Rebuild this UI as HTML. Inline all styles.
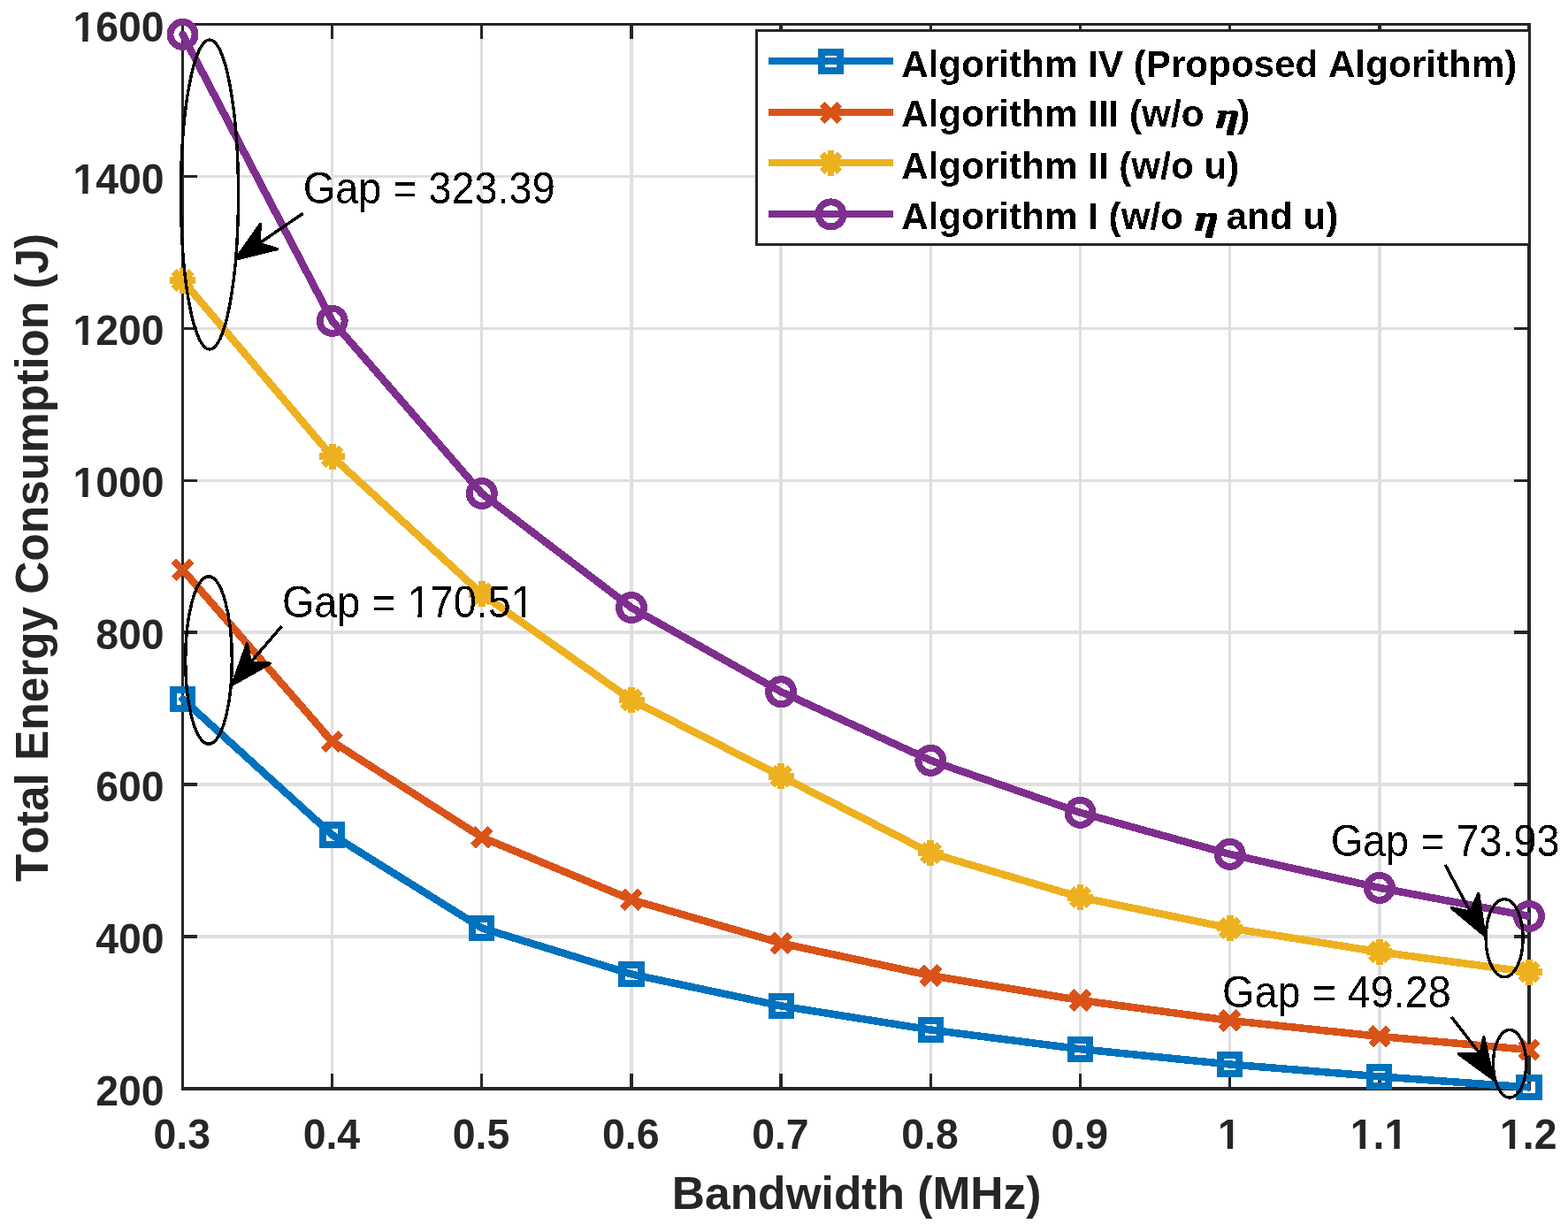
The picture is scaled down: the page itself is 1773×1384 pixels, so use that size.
<!DOCTYPE html>
<html lang="en"><head><meta charset="utf-8"><title>Total Energy Consumption vs Bandwidth</title>
<style>html,body{margin:0;padding:0;background:#fff}body{width:1773px;height:1384px;overflow:hidden}svg{display:block;shape-rendering:crispEdges}text{font-family:"Liberation Sans",Arial,Helvetica,sans-serif;white-space:pre;font-kerning:none;font-variant-ligatures:none}.eta{font-family:"Liberation Serif","DejaVu Serif",serif;font-weight:bold}</style>
</head><body>
<svg width="1773" height="1384" viewBox="0 0 1773 1384" role="img" aria-label="Total energy consumption versus bandwidth for four algorithms">
<rect width="1773" height="1384" fill="#fff"/>
<defs><clipPath id="c1"><path clip-rule="evenodd" d="M-900-400H900V400H-900ZM141.79 -4.1H153.56V3H141.79ZM157.7 -4.1H167.82V3H157.7ZM258.92 -4.1H270.69V3H258.92ZM274.82 -4.1H284.94V3H274.82Z"/></clipPath><clipPath id="c2"><path clip-rule="evenodd" d="M-900-400H900V400H-900ZM-12.9 -5.33H-2.07V3H-12.9ZM4.29 -5.33H12.89V3H4.29Z"/></clipPath><clipPath id="c3"><path clip-rule="evenodd" d="M-900-400H900V400H-900ZM-32.25 -5.33H-21.42V3H-32.25ZM-15.06 -5.33H-6.45V3H-15.06ZM6.44 -5.33H17.27V3H6.44ZM23.64 -5.33H32.24V3H23.64Z"/></clipPath><clipPath id="c4"><path clip-rule="evenodd" d="M-900-400H900V400H-900ZM-32.25 -5.33H-21.42V3H-32.25ZM-15.06 -5.33H-6.45V3H-15.06Z"/></clipPath><clipPath id="c5"><path clip-rule="evenodd" d="M-900-400H900V400H-900ZM-103.23 -5.33H-92.4V3H-103.23ZM-86.03 -5.33H-77.43V3H-86.03Z"/></clipPath><clipPath id="c6"><path clip-rule="evenodd" d="M-900-400H900V400H-900ZM-103.23 -5.33H-92.4V3H-103.23ZM-86.03 -5.33H-77.43V3H-86.03Z"/></clipPath><clipPath id="c7"><path clip-rule="evenodd" d="M-900-400H900V400H-900ZM-103.23 -5.33H-92.4V3H-103.23ZM-86.03 -5.33H-77.43V3H-86.03Z"/></clipPath><clipPath id="c8"><path clip-rule="evenodd" d="M-900-400H900V400H-900ZM-103.23 -5.33H-92.4V3H-103.23ZM-86.03 -5.33H-77.43V3H-86.03Z"/></clipPath></defs>
<path id="grid" d="M374 29H377V1229H374ZM543 29H546V1229H543ZM712 29H716V1229H712ZM881 29H885V1229H881ZM1051 29H1054V1229H1051ZM1220 29H1223V1229H1220ZM1389 29H1392V1229H1389ZM1558 29H1562V1229H1558ZM208 198H1727V201H208ZM208 370H1727V373H208ZM208 542H1727V545H208ZM208 713H1727V717H208ZM208 885H1727V889H208ZM208 1057H1727V1061H208Z" fill="#dfdfdf"/>
<path id="axes" d="M374 1214H377V1229H374ZM374 29H377V44H374ZM543 1214H546V1229H543ZM543 29H546V44H543ZM712 1214H716V1229H712ZM712 29H716V44H712ZM881 1214H885V1229H881ZM881 29H885V44H881ZM1051 1214H1054V1229H1051ZM1051 29H1054V44H1051ZM1220 1214H1223V1229H1220ZM1220 29H1223V44H1220ZM1389 1214H1392V1229H1389ZM1389 29H1392V44H1389ZM1558 1214H1562V1229H1558ZM1558 29H1562V44H1558ZM208 198H223V201H208ZM1712 198H1727V201H1712ZM208 370H223V373H208ZM1712 370H1727V373H1712ZM208 542H223V545H208ZM1712 542H1727V545H1712ZM208 713H223V717H208ZM1712 713H1727V717H1712ZM208 885H223V889H208ZM1712 885H1727V889H1712ZM208 1057H223V1061H208ZM1712 1057H1727V1061H1712ZM205 26H1731V29H205ZM205 1229H1731V1233H205ZM205 26H208V1233H205ZM1727 26H1731V1233H1727Z" fill="#262626"/>
<defs><clipPath id="axclip"><rect x="200" y="20" width="1530" height="1214"/></clipPath></defs>
<g id="lines" fill="none" stroke-linejoin="round" stroke-linecap="round" clip-path="url(#axclip)">
<polyline points="206.5,790.5 375.67,944 544.83,1049.4 714,1101.5 883.17,1137.4 1052.33,1164.5 1221.5,1186.2 1390.67,1203.5 1559.83,1217.3 1729,1229.4" stroke="#0072BD" stroke-width="8.5"/>
<polyline points="206.5,644.1 375.67,838.5 544.83,946.7 714,1017.3 883.17,1066.5 1052.33,1103.1 1221.5,1131 1390.67,1153.9 1559.83,1171.9 1729,1187" stroke="#D95319" stroke-width="8.5"/>
<polyline points="206.5,317 375.67,516.4 544.83,671.6 714,791.5 883.17,877.7 1052.33,964.5 1221.5,1014.6 1390.67,1049.4 1559.83,1076.4 1729,1099.2" stroke="#EDB120" stroke-width="8.5"/>
<polyline points="206.5,38.95 375.67,362.85 544.83,558 714,687.1 883.17,782.2 1052.33,859.9 1221.5,918.8 1390.67,965.85 1559.83,1003.9 1729,1035.95" stroke="#7E2F8E" stroke-width="8.5"/>
</g>
<g id="markers-blue">
<rect x="195.93" y="779.92" width="21.15" height="21.15" fill="none" stroke="#0072BD" stroke-width="7.9"/>
<rect x="365.09" y="933.42" width="21.15" height="21.15" fill="none" stroke="#0072BD" stroke-width="7.9"/>
<rect x="534.26" y="1038.83" width="21.15" height="21.15" fill="none" stroke="#0072BD" stroke-width="7.9"/>
<rect x="703.42" y="1090.92" width="21.15" height="21.15" fill="none" stroke="#0072BD" stroke-width="7.9"/>
<rect x="872.59" y="1126.83" width="21.15" height="21.15" fill="none" stroke="#0072BD" stroke-width="7.9"/>
<rect x="1041.76" y="1153.92" width="21.15" height="21.15" fill="none" stroke="#0072BD" stroke-width="7.9"/>
<rect x="1210.92" y="1175.62" width="21.15" height="21.15" fill="none" stroke="#0072BD" stroke-width="7.9"/>
<rect x="1380.09" y="1192.92" width="21.15" height="21.15" fill="none" stroke="#0072BD" stroke-width="7.9"/>
<rect x="1549.26" y="1206.72" width="21.15" height="21.15" fill="none" stroke="#0072BD" stroke-width="7.9"/>
<rect x="1718.42" y="1218.83" width="21.15" height="21.15" fill="none" stroke="#0072BD" stroke-width="7.9"/>
</g>
<g id="markers-orange">
<path d="M196.6 634.2L216.4 654M196.6 654L216.4 634.2" fill="none" stroke="#D95319" stroke-width="7.9"/>
<path d="M365.77 828.6L385.57 848.4M365.77 848.4L385.57 828.6" fill="none" stroke="#D95319" stroke-width="7.9"/>
<path d="M534.93 936.8L554.73 956.6M534.93 956.6L554.73 936.8" fill="none" stroke="#D95319" stroke-width="7.9"/>
<path d="M704.1 1007.4L723.9 1027.2M704.1 1027.2L723.9 1007.4" fill="none" stroke="#D95319" stroke-width="7.9"/>
<path d="M873.27 1056.6L893.07 1076.4M873.27 1076.4L893.07 1056.6" fill="none" stroke="#D95319" stroke-width="7.9"/>
<path d="M1042.43 1093.2L1062.23 1113M1042.43 1113L1062.23 1093.2" fill="none" stroke="#D95319" stroke-width="7.9"/>
<path d="M1211.6 1121.1L1231.4 1140.9M1211.6 1140.9L1231.4 1121.1" fill="none" stroke="#D95319" stroke-width="7.9"/>
<path d="M1380.77 1144L1400.57 1163.8M1380.77 1163.8L1400.57 1144" fill="none" stroke="#D95319" stroke-width="7.9"/>
<path d="M1549.93 1162L1569.73 1181.8M1549.93 1181.8L1569.73 1162" fill="none" stroke="#D95319" stroke-width="7.9"/>
<path d="M1719.1 1177.1L1738.9 1196.9M1719.1 1196.9L1738.9 1177.1" fill="none" stroke="#D95319" stroke-width="7.9"/>
</g>
<g id="markers-yellow">
<path d="M196.6 307.1L216.4 326.9M196.6 326.9L216.4 307.1M192 317L221 317M206.5 302.5L206.5 331.5" fill="none" stroke="#EDB120" stroke-width="7.9"/>
<path d="M365.77 506.5L385.57 526.3M365.77 526.3L385.57 506.5M361.17 516.4L390.17 516.4M375.67 501.9L375.67 530.9" fill="none" stroke="#EDB120" stroke-width="7.9"/>
<path d="M534.93 661.7L554.73 681.5M534.93 681.5L554.73 661.7M530.33 671.6L559.33 671.6M544.83 657.1L544.83 686.1" fill="none" stroke="#EDB120" stroke-width="7.9"/>
<path d="M704.1 781.6L723.9 801.4M704.1 801.4L723.9 781.6M699.5 791.5L728.5 791.5M714 777L714 806" fill="none" stroke="#EDB120" stroke-width="7.9"/>
<path d="M873.27 867.8L893.07 887.6M873.27 887.6L893.07 867.8M868.67 877.7L897.67 877.7M883.17 863.2L883.17 892.2" fill="none" stroke="#EDB120" stroke-width="7.9"/>
<path d="M1042.43 954.6L1062.23 974.4M1042.43 974.4L1062.23 954.6M1037.83 964.5L1066.83 964.5M1052.33 950L1052.33 979" fill="none" stroke="#EDB120" stroke-width="7.9"/>
<path d="M1211.6 1004.7L1231.4 1024.5M1211.6 1024.5L1231.4 1004.7M1207 1014.6L1236 1014.6M1221.5 1000.1L1221.5 1029.1" fill="none" stroke="#EDB120" stroke-width="7.9"/>
<path d="M1380.77 1039.5L1400.57 1059.3M1380.77 1059.3L1400.57 1039.5M1376.17 1049.4L1405.17 1049.4M1390.67 1034.9L1390.67 1063.9" fill="none" stroke="#EDB120" stroke-width="7.9"/>
<path d="M1549.93 1066.5L1569.73 1086.3M1549.93 1086.3L1569.73 1066.5M1545.33 1076.4L1574.33 1076.4M1559.83 1061.9L1559.83 1090.9" fill="none" stroke="#EDB120" stroke-width="7.9"/>
<path d="M1719.1 1089.3L1738.9 1109.1M1719.1 1109.1L1738.9 1089.3M1714.5 1099.2L1743.5 1099.2M1729 1084.7L1729 1113.7" fill="none" stroke="#EDB120" stroke-width="7.9"/>
</g>
<g id="markers-purple">
<circle cx="206.5" cy="38.95" r="14.05" fill="none" stroke="#7E2F8E" stroke-width="7.9"/>
<circle cx="375.67" cy="362.85" r="14.05" fill="none" stroke="#7E2F8E" stroke-width="7.9"/>
<circle cx="544.83" cy="558" r="14.05" fill="none" stroke="#7E2F8E" stroke-width="7.9"/>
<circle cx="714" cy="687.1" r="14.05" fill="none" stroke="#7E2F8E" stroke-width="7.9"/>
<circle cx="883.17" cy="782.2" r="14.05" fill="none" stroke="#7E2F8E" stroke-width="7.9"/>
<circle cx="1052.33" cy="859.9" r="14.05" fill="none" stroke="#7E2F8E" stroke-width="7.9"/>
<circle cx="1221.5" cy="918.8" r="14.05" fill="none" stroke="#7E2F8E" stroke-width="7.9"/>
<circle cx="1390.67" cy="965.85" r="14.05" fill="none" stroke="#7E2F8E" stroke-width="7.9"/>
<circle cx="1559.83" cy="1003.9" r="14.05" fill="none" stroke="#7E2F8E" stroke-width="7.9"/>
<circle cx="1729" cy="1035.95" r="14.05" fill="none" stroke="#7E2F8E" stroke-width="7.9"/>
</g>
<defs><filter id="hard" x="-5%" y="-20%" width="110%" height="140%" color-interpolation-filters="sRGB"><feComponentTransfer><feFuncA type="discrete" tableValues="0 1"/></feComponentTransfer></filter><filter id="hard2" x="-5%" y="-20%" width="110%" height="140%" color-interpolation-filters="sRGB"><feComponentTransfer><feFuncA type="discrete" tableValues="0 1 1 1"/></feComponentTransfer></filter></defs>
<g id="gap-labels" filter="url(#hard)">
<text transform="translate(342.8 230.4) scale(1 1.07)" font-size="46.8" font-weight="normal" text-anchor="start" fill="#000">Gap = 323.39</text>
<text transform="translate(318.9 697.8) scale(1 1.07)" font-size="46.8" font-weight="normal" text-anchor="start" fill="#000" clip-path="url(#c1)">Gap = 170.51</text>
<text transform="translate(1504.7 967.6) scale(1 1.07)" font-size="46.8" font-weight="normal" text-anchor="start" fill="#000">Gap = 73.93</text>
<text transform="translate(1382 1139) scale(1 1.07)" font-size="46.8" font-weight="normal" text-anchor="start" fill="#000">Gap = 49.28</text>
</g>
<g id="legend">
<rect x="855.5" y="34.5" width="874" height="242" fill="#fff" stroke="#262626" stroke-width="3.1"/>
<line x1="869" y1="69.1" x2="1010" y2="69.1" stroke="#0072BD" stroke-width="7.9"/>
<rect x="928.92" y="58.92" width="21.15" height="21.15" fill="none" stroke="#0072BD" stroke-width="7.9"/>
<line x1="869" y1="127.05" x2="1010" y2="127.05" stroke="#D95319" stroke-width="7.9"/>
<path d="M929.6 117.55L949.4 137.35M929.6 137.35L949.4 117.55" fill="none" stroke="#D95319" stroke-width="7.9"/>
<line x1="869" y1="183.9" x2="1010" y2="183.9" stroke="#EDB120" stroke-width="7.9"/>
<path d="M929.6 174.4L949.4 194.2M929.6 194.2L949.4 174.4M925 184.3L954 184.3M939.5 169.8L939.5 198.8" fill="none" stroke="#EDB120" stroke-width="7.9"/>
<line x1="869" y1="242" x2="1010" y2="242" stroke="#7E2F8E" stroke-width="7.9"/>
<circle cx="939.5" cy="242.4" r="14.05" fill="none" stroke="#7E2F8E" stroke-width="7.9"/>
<g id="legend-text" filter="url(#hard)">
<text transform="translate(1019.2 86.8) scale(1 1.01)" font-size="42.2" font-weight="bold" text-anchor="start" fill="#000">Algorithm IV (Proposed Algorithm)</text>
<text transform="translate(1019.2 142.8) scale(1 1.01)" font-size="42.2" font-weight="bold" text-anchor="start" fill="#000">Algorithm III (w/o </text>
<text class="eta" transform="translate(1372.2 143.6) skewX(-15) scale(1.15 1)" font-size="40" fill="#000" stroke="#000" stroke-width="1.4">η</text>
<text transform="translate(1413 142.8) scale(1 1.01)" font-size="42.2" font-weight="bold" text-anchor="end" fill="#000">)</text>
<text transform="translate(1019.2 201.8) scale(1 1.01)" font-size="42.2" font-weight="bold" text-anchor="start" fill="#000">Algorithm II (w/o u)</text>
<text transform="translate(1019.2 258.8) scale(1 1.01)" font-size="42.2" font-weight="bold" text-anchor="start" fill="#000">Algorithm I (w/o </text>
<text class="eta" transform="translate(1348.4 259.6) skewX(-15) scale(1.15 1)" font-size="40" fill="#000" stroke="#000" stroke-width="1.4">η</text>
<text transform="translate(1513.2 258.8) scale(1 1.01)" font-size="42.2" font-weight="bold" text-anchor="end" fill="#000">and u)</text>
</g>
</g>
<g id="annotations" fill="none" stroke="#000" stroke-width="3.4">
<ellipse cx="237" cy="220" rx="32.5" ry="175"/>
<ellipse cx="236" cy="746.5" rx="26.3" ry="94.7"/>
<ellipse cx="1701.1" cy="1060.7" rx="21" ry="44.1"/>
<ellipse cx="1707.1" cy="1202.8" rx="18.6" ry="38.4"/>
</g>
<line x1="342.5" y1="241.4" x2="290.26" y2="277.18" stroke="#000" stroke-width="3.5"/><polygon points="266.41,293.14 294.34,253.59 292.74,275.49 313.36,281.54" fill="#000" stroke="#000" stroke-width="3.4" stroke-linejoin="round"/>
<line x1="318.7" y1="707.9" x2="281.29" y2="751.42" stroke="#000" stroke-width="3.5"/><polygon points="262.9,774 279.43,727.88 283.23,749.12 305.2,750.17" fill="#000" stroke="#000" stroke-width="3.4" stroke-linejoin="round"/>
<line x1="1634.2" y1="978" x2="1664" y2="1033.78" stroke="#000" stroke-width="3.5"/><polygon points="1678.67,1057.72 1671.75,1010.57 1662.54,1031.16 1641.67,1026.82" fill="#000" stroke="#000" stroke-width="3.4" stroke-linejoin="round"/>
<line x1="1641.2" y1="1149.8" x2="1675.85" y2="1194.66" stroke="#000" stroke-width="3.5"/><polygon points="1688.25,1220.09 1677.66,1172.84 1674.18,1192.17 1649.59,1191.84" fill="#000" stroke="#000" stroke-width="3.4" stroke-linejoin="round"/>
<g id="xticks">
<text transform="translate(205.7 1298.8) scale(1 1.04)" font-size="46.4" font-weight="bold" text-anchor="middle" fill="#262626">0.3</text>
<text transform="translate(374.87 1298.8) scale(1 1.04)" font-size="46.4" font-weight="bold" text-anchor="middle" fill="#262626">0.4</text>
<text transform="translate(544.03 1298.8) scale(1 1.04)" font-size="46.4" font-weight="bold" text-anchor="middle" fill="#262626">0.5</text>
<text transform="translate(713.2 1298.8) scale(1 1.04)" font-size="46.4" font-weight="bold" text-anchor="middle" fill="#262626">0.6</text>
<text transform="translate(882.37 1298.8) scale(1 1.04)" font-size="46.4" font-weight="bold" text-anchor="middle" fill="#262626">0.7</text>
<text transform="translate(1051.53 1298.8) scale(1 1.04)" font-size="46.4" font-weight="bold" text-anchor="middle" fill="#262626">0.8</text>
<text transform="translate(1220.7 1298.8) scale(1 1.04)" font-size="46.4" font-weight="bold" text-anchor="middle" fill="#262626">0.9</text>
<text transform="translate(1389.87 1298.8) scale(1 1.04)" font-size="46.4" font-weight="bold" text-anchor="middle" fill="#262626" clip-path="url(#c2)">1</text>
<text transform="translate(1559.03 1298.8) scale(1 1.04)" font-size="46.4" font-weight="bold" text-anchor="middle" fill="#262626" clip-path="url(#c3)">1.1</text>
<text transform="translate(1728.2 1298.8) scale(1 1.04)" font-size="46.4" font-weight="bold" text-anchor="middle" fill="#262626" clip-path="url(#c4)">1.2</text>
</g>
<g id="yticks">
<text transform="translate(185.6 46.6) scale(1 1.04)" font-size="46.4" font-weight="bold" text-anchor="end" fill="#262626" clip-path="url(#c5)">1600</text>
<text transform="translate(185.6 218.53) scale(1 1.04)" font-size="46.4" font-weight="bold" text-anchor="end" fill="#262626" clip-path="url(#c6)">1400</text>
<text transform="translate(185.6 390.46) scale(1 1.04)" font-size="46.4" font-weight="bold" text-anchor="end" fill="#262626" clip-path="url(#c7)">1200</text>
<text transform="translate(185.6 562.39) scale(1 1.04)" font-size="46.4" font-weight="bold" text-anchor="end" fill="#262626" clip-path="url(#c8)">1000</text>
<text transform="translate(185.6 734.31) scale(1 1.04)" font-size="46.4" font-weight="bold" text-anchor="end" fill="#262626">800</text>
<text transform="translate(185.6 906.24) scale(1 1.04)" font-size="46.4" font-weight="bold" text-anchor="end" fill="#262626">600</text>
<text transform="translate(185.6 1078.17) scale(1 1.04)" font-size="46.4" font-weight="bold" text-anchor="end" fill="#262626">400</text>
<text transform="translate(185.6 1250.1) scale(1 1.04)" font-size="46.4" font-weight="bold" text-anchor="end" fill="#262626">200</text>
</g>
<text transform="translate(968.6 1366.9) scale(1 1.02)" font-size="51.5" font-weight="bold" text-anchor="middle" fill="#262626">Bandwidth (MHz)</text>
<text transform="translate(54 630.35) rotate(-90) scale(1 1.02)" font-size="51.35" font-weight="bold" text-anchor="middle" fill="#262626">Total Energy Consumption (J)</text>
</svg>
</body></html>
